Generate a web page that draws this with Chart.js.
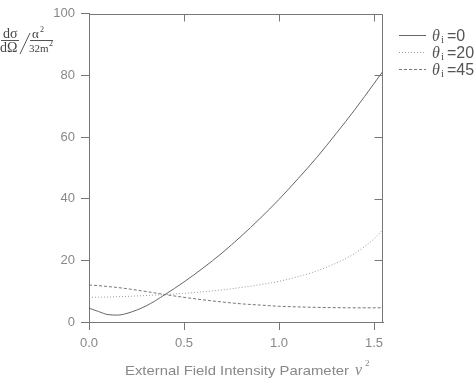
<!DOCTYPE html>
<html>
<head>
<meta charset="utf-8">
<script src="https://cdn.jsdelivr.net/npm/chart.js@4"></script>
<style>
html,body{margin:0;padding:0;background:#fff;}
#wrap{width:474px;height:380px;position:relative;}
</style>
</head>
<body>
<div id="wrap"><canvas id="c" width="474" height="380"></canvas></div>
<script>
// ---- data ----
const nu2 = [0, 0.05, 0.1, 0.15, 0.2, 0.3, 0.4, 0.5, 0.6, 0.7, 0.8, 0.9, 1.0, 1.1, 1.2, 1.3, 1.4, 1.5, 1.547];
const theta0 = [4.5, 3.4, 2.4, 2.25, 2.8, 5.2, 8.9, 13.0, 17.5, 22.4, 27.8, 33.6, 39.8, 46.5, 53.5, 61.1, 69.0, 77.4, 81.4];
const theta20 = [8.0, 8.05, 8.1, 8.2, 8.3, 8.6, 8.9, 9.3, 9.8, 10.4, 11.2, 12.1, 13.2, 14.7, 16.6, 19.1, 22.3, 27.0, 30.0];
const theta45 = [12.0, 11.8, 11.5, 11.2, 10.8, 9.9, 8.9, 8.0, 7.2, 6.5, 5.9, 5.5, 5.1, 4.9, 4.75, 4.65, 4.6, 4.6, 4.6];
const xTicks = [0, 0.5, 1.0, 1.5];
const yTicks = [0, 20, 40, 60, 80, 100];
const legendLabels = ["0", "20°", "45°"];
const xTitle = "External Field Intensity Parameter";

const pts = arr => nu2.map((x, i) => ({x: x, y: arr[i]}));
const AX = '#777';

const decor = {
  id: 'decor',
  afterDraw(chart) {
    const ctx = chart.ctx, ca = chart.chartArea;
    const xs = chart.scales.x, ys = chart.scales.y;
    const al = v => Math.round(v) + 0.5;
    ctx.save();
    ctx.strokeStyle = AX; ctx.lineWidth = 1;
    const L = al(ca.left), R = al(ca.right - 1), T = al(ca.top), B = al(ca.bottom);
    ctx.beginPath();
    ctx.moveTo(L, T); ctx.lineTo(R, T); ctx.lineTo(R, B);
    xTicks.forEach(v => { const p = al(xs.getPixelForValue(v)); ctx.moveTo(p, T); ctx.lineTo(p, T + 7); });
    yTicks.forEach(v => { const p = al(ys.getPixelForValue(v)); ctx.moveTo(R, p); ctx.lineTo(R - 8, p); });
    ctx.stroke();

    // y label: dσ/dΩ / α²/32m²
    ctx.fillStyle = '#444'; ctx.strokeStyle = '#555';
    ctx.textBaseline = 'alphabetic'; ctx.textAlign = 'left';
    ctx.font = '14px "Liberation Serif"';
    ctx.fillText('dσ', 3, 38);
    ctx.fillText('dΩ', 0, 52);
    ctx.beginPath();
    ctx.moveTo(1, 40.5); ctx.lineTo(19, 40.5);
    ctx.moveTo(20, 54); ctx.lineTo(30, 33);
    ctx.moveTo(30, 40.5); ctx.lineTo(53, 40.5);
    ctx.stroke();
    ctx.font = '13px "Liberation Serif"';
    ctx.fillText('α', 32, 38);
    ctx.font = '11px "Liberation Serif"';
    ctx.fillText('32m', 29, 52);
    ctx.font = '8px "Liberation Serif"';
    ctx.fillText('2', 40, 32);
    ctx.fillText('2', 49, 46);

    // x title
    ctx.fillStyle = '#888';
    ctx.font = '13px "Liberation Sans"';
    const w = ctx.measureText(xTitle).width;
    const k = 224 / w;
    ctx.save(); ctx.translate(125, 375); ctx.scale(k, 1); ctx.fillText(xTitle, 0, 0); ctx.restore();
    ctx.font = 'italic 16px "Liberation Serif"';
    ctx.fillText('ν', 355, 375);
    ctx.font = '9px "Liberation Serif"';
    ctx.fillText('2', 365, 366);

    // legend
    const rows = [35, 52, 69];
    chart.data.datasets.forEach((ds, i) => {
      const y = rows[i];
      ctx.strokeStyle = ds.borderColor; ctx.lineWidth = 1;
      ctx.setLineDash(ds.borderDash || []);
      ctx.beginPath(); ctx.moveTo(399, y + 0.5); ctx.lineTo(426, y + 0.5); ctx.stroke();
      ctx.setLineDash([]);
      ctx.fillStyle = '#555';
      ctx.font = 'italic 16px "Liberation Serif"';
      ctx.fillText('θ', 432, y + 6);
      ctx.font = '11px "Liberation Serif"';
      ctx.fillText('i', 441, y + 8);
      ctx.font = '16px "Liberation Sans"';
      ctx.fillText('=' + legendLabels[i], 447, y + 6);
    });
    ctx.restore();
  }
};

new Chart(document.getElementById('c'), {
  type: 'line',
  data: {
    datasets: [
      {label: 'θi=0', data: pts(theta0), borderColor: '#666', borderWidth: 1, pointRadius: 0, cubicInterpolationMode: 'monotone', fill: false},
      {label: 'θi=20°', data: pts(theta20), borderColor: '#999', borderWidth: 1, borderDash: [1, 2], pointRadius: 0, cubicInterpolationMode: 'monotone', fill: false},
      {label: 'θi=45°', data: pts(theta45), borderColor: '#777', borderWidth: 1, borderDash: [3, 2], pointRadius: 0, cubicInterpolationMode: 'monotone', fill: false}
    ]
  },
  options: {
    responsive: false,
    animation: false,
    events: [],
    layout: {padding: {top: 7, right: 91, bottom: 0, left: 0}},
    plugins: {legend: {display: false}, tooltip: {enabled: false}},
    scales: {
      x: {
        type: 'linear', min: 0, max: 1.547,
        afterBuildTicks: s => { s.ticks = xTicks.map(v => ({value: v})); },
        afterFit: s => { s.height = 58; },
        grid: {drawOnChartArea: false, drawTicks: true, tickLength: 8, color: AX},
        border: {display: true, color: AX},
        ticks: {color: '#888', font: {family: 'Liberation Sans', size: 13}, padding: 6, maxRotation: 0,
                callback: v => Number(v).toFixed(1)}
      },
      y: {
        type: 'linear', min: 0, max: 100,
        afterBuildTicks: s => { s.ticks = yTicks.map(v => ({value: v})); },
        afterFit: s => { s.width = 89; },
        grid: {drawOnChartArea: false, drawTicks: true, tickLength: 8, color: AX},
        border: {display: true, color: AX},
        ticks: {color: '#888', font: {family: 'Liberation Sans', size: 13}, padding: 6}
      }
    }
  },
  plugins: [decor]
});
</script>
</body>
</html>
